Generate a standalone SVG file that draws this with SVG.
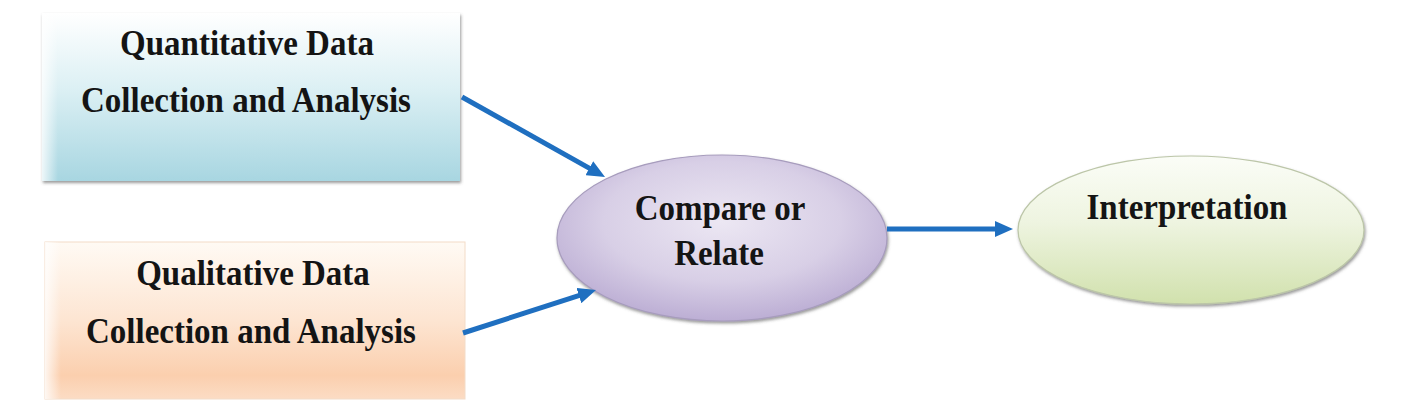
<svg xmlns="http://www.w3.org/2000/svg" width="1403" height="405" viewBox="0 0 1403 405">
  <defs>
    <linearGradient id="gBlue" x1="0" y1="0" x2="0" y2="1">
      <stop offset="0" stop-color="#ffffff"/>
      <stop offset="0.45" stop-color="#dcf0f4"/>
      <stop offset="1" stop-color="#a8d6e1"/>
    </linearGradient>
    <linearGradient id="gOrange" x1="0" y1="0" x2="0" y2="1">
      <stop offset="0" stop-color="#fffaf4"/>
      <stop offset="0.5" stop-color="#fde5d2"/>
      <stop offset="0.85" stop-color="#fbcfae"/>
      <stop offset="1" stop-color="#fcdcc4"/>
    </linearGradient>
    <linearGradient id="gFadeL" x1="0" y1="0" x2="1" y2="0">
      <stop offset="0" stop-color="#ffffff" stop-opacity="0.8"/>
      <stop offset="1" stop-color="#ffffff" stop-opacity="0"/>
    </linearGradient>
    <radialGradient id="gPurple" cx="0.5" cy="0.4" r="0.6">
      <stop offset="0" stop-color="#ece7f3"/>
      <stop offset="0.6" stop-color="#d8cfe6"/>
      <stop offset="1" stop-color="#bcaed4"/>
    </radialGradient>
    <linearGradient id="gGreen" x1="0" y1="0" x2="0" y2="1">
      <stop offset="0" stop-color="#fbfdf7"/>
      <stop offset="0.45" stop-color="#eef4e0"/>
      <stop offset="1" stop-color="#d1e1ad"/>
    </linearGradient>
    <filter id="shadow" x="-5%" y="-5%" width="112%" height="115%">
      <feDropShadow dx="1" dy="2" stdDeviation="1.5" flood-color="#555555" flood-opacity="0.6"/>
    </filter>
    <marker id="arrow" viewBox="0 0 18 16" markerUnits="userSpaceOnUse" markerWidth="18" markerHeight="16" refX="8" refY="8" orient="auto">
      <path d="M0,0 L18,8 L0,16 z" fill="#1f6fc0"/>
    </marker>
    <style>
      .lbl { font-family: "Liberation Serif", "Times New Roman", serif; font-weight: bold; font-size: 33px; fill: #141414; text-anchor: middle; }
      .conn { stroke: #1f6fc0; stroke-width: 5; fill: none; marker-end: url(#arrow); }
    </style>
  </defs>

  <rect x="0" y="0" width="1403" height="405" fill="#ffffff"/>

  <g id="node-quantitative">
    <rect x="42" y="13" width="418" height="168" fill="url(#gBlue)" filter="url(#shadow)"/>
    <rect x="42" y="13" width="16" height="168" fill="url(#gFadeL)"/>
    <text class="lbl" transform="translate(247,55) scale(1,1.1)">Quantitative Data</text>
    <text class="lbl" transform="translate(246,112) scale(1,1.1)">Collection and Analysis</text>
  </g>

  <g id="node-qualitative">
    <rect x="45" y="242" width="420" height="157" fill="url(#gOrange)" stroke="#f3dcc8" stroke-width="1"/>
    <rect x="45" y="242" width="16" height="157" fill="url(#gFadeL)"/>
    <text class="lbl" transform="translate(253,285) scale(1,1.1)">Qualitative Data</text>
    <text class="lbl" transform="translate(251,343) scale(1,1.1)">Collection and Analysis</text>
  </g>

  <g id="node-compare">
    <ellipse cx="722" cy="238" rx="165" ry="83" fill="url(#gPurple)" stroke="#a79cbd" stroke-width="1.2" filter="url(#shadow)"/>
    <text class="lbl" transform="translate(720,220) scale(1,1.1)">Compare or</text>
    <text class="lbl" transform="translate(719,265) scale(1,1.1)">Relate</text>
  </g>

  <g id="node-interpretation">
    <ellipse cx="1191" cy="230" rx="173" ry="74" fill="url(#gGreen)" stroke="#bcc6a8" stroke-width="1.2" filter="url(#shadow)"/>
    <text class="lbl" transform="translate(1187,219) scale(1,1.1)">Interpretation</text>
  </g>

  <g id="connectors">
    <line class="conn" x1="462" y1="97" x2="596.3" y2="172.1"/>
    <line class="conn" x1="463" y1="333" x2="586.5" y2="293.1"/>
    <line class="conn" x1="887" y1="229" x2="1003" y2="229"/>
  </g>
</svg>
